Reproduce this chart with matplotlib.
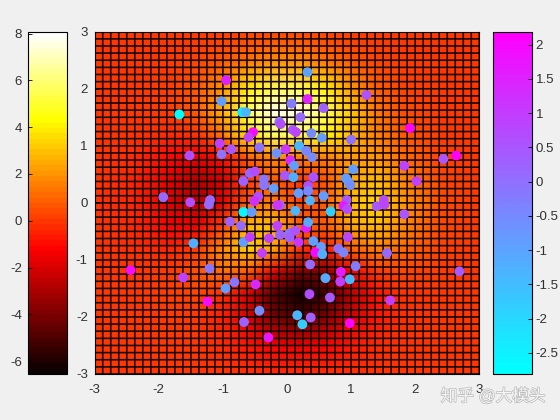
#
# pcolor surface with a scatter on top, one colorbar each side.
# Surface and point values are estimates.
#
import numpy as np
import matplotlib
matplotlib.use('Agg')
import matplotlib.pyplot as plt
import matplotlib.patheffects as pe
from matplotlib.colors import Normalize
from matplotlib.cm import ScalarMappable

plt.rcParams['font.family'] = ['Liberation Sans', 'Noto Sans CJK SC', 'DejaVu Sans']
plt.rcParams['axes.unicode_minus'] = False

x_grid = [-3, -2.4, -1.8, -1.4, -1, -0.6, -0.2, 0.2, 0.6, 1, 1.4, 1.8, 2.4, 3]
y_grid = [-3, -2.5, -2, -1.6, -1.2, -0.8, -0.4, 0, 0.4, 0.8, 1.2, 1.6, 2, 2.5, 3]

# one row per x_grid value, one column per y_grid value
z_m30 = [0, 0, 0, 0, 0, -0.01, -0.03, -0.04, -0.03, -0.02, -0.01, 0, 0, 0, 0]
z_m24 = [0, 0.01, 0.01, 0.01, -0.02, -0.15, -0.32, -0.43, -0.38, -0.24, -0.09, -0.01, 0.01, 0.01, 0]
z_m18 = [0.01, 0.02, 0.07, 0.15, 0.10, -0.41, -1.34, -1.98, -1.84, -1.12, -0.31, 0.14, 0.19, 0.07, 0.01]
z_m14 = [0, -0.02, 0, 0.27, 0.62, 0.12, -1.51, -2.86, -2.85, -1.64, -0.04, 0.86, 0.76, 0.26, 0.04]
z_m10 = [-0.03, -0.24, -0.59, -0.16, 1.30, 1.88, 0.26, -1.65, -2.14, -0.92, 1.43, 2.74, 2.10, 0.69, 0.11]
z_m06 = [-0.11, -0.75, -2.13, -2.00, 0.81, 3.44, 2.87, 1.02, 0, 0.91, 3.93, 5.59, 4.07, 1.31, 0.21]
z_m02 = [-0.21, -1.37, -4.10, -4.89, -1.64, 2.40, 2.93, 1.66, 0.78, 1.89, 5.73, 7.80, 5.63, 1.81, 0.29]
z_p02 = [-0.25, -1.62, -4.95, -6.53, -3.98, -0.09, 0.88, 0.29, 0.01, 1.53, 5.59, 7.77, 5.62, 1.81, 0.29]
z_p06 = [-0.20, -1.28, -3.95, -5.37, -3.64, -0.55, 0.72, 0.77, 0.66, 1.56, 4.27, 5.71, 4.10, 1.32, 0.21]
z_p10 = [-0.11, -0.69, -2.10, -2.76, -1.47, 0.91, 2.47, 2.94, 2.53, 2.19, 2.87, 3.21, 2.21, 0.70, 0.11]
z_p14 = [-0.04, -0.25, -0.74, -0.83, 0.06, 1.65, 2.99, 3.50, 2.98, 2.08, 1.65, 1.41, 0.89, 0.27, 0.04]
z_p18 = [-0.01, -0.06, -0.16, -0.10, 0.35, 1.13, 1.88, 2.17, 1.84, 1.20, 0.74, 0.48, 0.27, 0.08, 0.01]
z_p24 = [0, 0, 0, 0.02, 0.10, 0.23, 0.37, 0.43, 0.36, 0.23, 0.12, 0.06, 0.03, 0.01, 0]
z_p30 = [0, 0, 0, 0, 0.01, 0.02, 0.03, 0.03, 0.03, 0.02, 0.01, 0, 0, 0, 0]

z_vmin, z_vmax = -6.55, 8.08
c_vmin, c_vmax = -2.81, 2.19

pts_x = [-0.95, -1.02, -0.70, -0.64, -0.53, -0.60, -0.12, -0.10, -1.05, -0.87,
         -1.02, -0.43, -1.52, -0.16, -0.02, 0.07, 0.21, 0.09, 0.14, 0.38,
         0.54, 1.00, 1.24, 0.32, 0.32, 0.57, 1.92, 2.64, 2.44, 1.83,
         2.02, 0.19, 0.30, 0.39, 0.05, 0.11, -0.03, 0.10, 0.41, 1.03,
         0.92, 0.96, 0.99, 0.33, 0.33, 0.18, 0.57, 0.36, -0.11, -0.15,
         0.13, 0.68, 0.93, 0.88, 0.94, 1.51, 1.40, 1.52, 1.83, -0.68,
         -0.58, -0.50, -0.36, -0.36, -0.21, -1.20, -1.22, -1.51, -1.93, -0.45,
         -0.51, -0.68, -0.55, -0.89, -0.72, -0.15, -1.46, -0.68, -0.58, -0.28,
         -0.11, 0.04, 0.04, 0.13, 0.18, 0.30, 0.33, 0.41, 0.53, 0.44,
         0.55, 0.80, 0.88, 0.95, -0.39, -1.21, -2.44, -1.62, -0.82, -0.96,
         -0.49, -1.24, -0.43, -0.67, -0.29, 0.36, 1.07, 0.84, 0.83, 0.98,
         0.60, 0.35, 0.67, 0.16, 0.37, 0.24, 0.98, 1.56, 2.69, 1.61, -1.68]
pts_y = [2.15, 1.78, 1.59, 1.59, 1.24, 1.15, 1.42, 1.38, 1.04, 0.94,
         0.85, 0.97, 0.83, 0.87, 0.94, 1.74, 1.50, 1.28, 1.24, 1.22,
         1.14, 1.11, 1.89, 2.29, 1.82, 1.66, 1.31, 0.83, 0.77, 0.65,
         0.38, 1.00, 0.91, 0.80, 0.75, 0.65, 0.48, 0.45, 0.45, 0.59,
         0.43, 0.37, 0.31, 0.30, 0.21, 0.17, 0.12, 0.04, -0.04, -0.04,
         -0.14, -0.15, 0.05, -0.05, -0.11, 0.05, -0.06, -0.03, -0.20, 0.38,
         0.52, 0.55, 0.41, 0.31, 0.25, 0.05, -0.03, 0.01, 0.10, 0.11,
         0.03, -0.16, -0.16, -0.33, -0.40, -0.40, -0.71, -0.69, -0.60, -0.62,
         -0.56, -0.53, -0.61, -0.49, -0.69, -0.44, -0.34, -0.67, -0.77, -0.87,
         -0.90, -0.80, -0.87, -0.60, -0.88, -1.15, -1.18, -1.31, -1.39, -1.50,
         -1.43, -1.73, -1.89, -2.09, -2.36, -1.08, -1.11, -1.21, -1.38, -1.34,
         -1.32, -1.60, -1.66, -1.97, -2.01, -2.13, -2.11, -0.88, -1.20, -1.71, 1.55]
pts_c = [1.5, -0.9, -2.3, -1.4, 1.9, 0.9, -0.1, 0.7, 1.0, 0.5,
         0.0, 0.0, 0.7, -0.7, 1.1, -0.3, 0.1, 0.5, 0.8, -0.5,
         -0.9, 0.0, 0.6, -1.0, 1.5, 0.3, 2.15, 2.15, 0.5, 0.9,
         0.9, -1.4, -0.4, -0.5, 1.4, -0.9, 0.5, -1.2, 0.6, -0.9,
         -0.8, -0.8, -0.6, 0.7, -0.4, -0.8, -0.8, -1.3, 0.3, 1.1,
         -1.4, -1.8, 0.4, 1.6, 0.7, 0.7, 0.4, 0.8, 0.5, 0.3,
         0.2, 0.7, -0.1, -0.1, -0.9, 0.1, 0.1, 0.7, 0.1, 0.7,
         1.2, -2.6, -0.8, 0.3, 0.1, 0.9, -1.2, -0.9, 1.0, 0.9,
         0.3, 0.0, 0.3, 0.6, 1.1, 1.6, -1.1, -0.9, -0.9, 2.0,
         -1.2, 0.0, -0.4, 0.8, 1.0, -0.1, 1.9, 0.9, -0.1, -0.9,
         1.4, 1.9, -0.6, 0.3, 1.7, 0.1, -0.3, 1.6, 1.0, -1.4,
         -1.1, 0.7, 0.4, -1.4, 0.3, -1.8, 2.1, 0.1, 0.4, 1.0, -2.8]

z_ticks = [-6, -4, -2, 0, 2, 4, 6, 8]
c_ticks = [-2.5, -2, -1.5, -1, -0.5, 0, 0.5, 1, 1.5, 2]
axis_ticks = [-3, -2, -1, 0, 1, 2, 3]
n_lines = 49

W, H = 560, 420
TICK = '#303030'
FS = 9.5


def px_axes(fig, left, top, right, bottom):
    return fig.add_axes([left / W, 1 - bottom / H, (right - left) / W, (bottom - top) / H])


def style_bar(cax, side, ticks, labels, pad):
    cax.yaxis.set_ticks_position(side)
    cax.set_yticks(ticks)
    cax.set_yticklabels(labels)
    cax.tick_params(axis='y', direction='in', length=3, width=0.6, pad=pad,
                    labelsize=FS, labelcolor=TICK, color='k')
    cax.minorticks_off()


fig = plt.figure(figsize=(W / 100, H / 100), dpi=100, facecolor='#f0f0f0')
ax = px_axes(fig, 94.7, 31.7, 479.3, 374)
left_cax = px_axes(fig, 27.5, 31.7, 66.5, 374)
right_cax = px_axes(fig, 492.5, 31.7, 531.5, 374)

z = np.array([z_m30, z_m24, z_m18, z_m14, z_m10, z_m06, z_m02,
              z_p02, z_p06, z_p10, z_p14, z_p18, z_p24, z_p30]).T

z_norm = Normalize(z_vmin, z_vmax)
c_norm = Normalize(c_vmin, c_vmax)
hot = plt.get_cmap('hot', 64)
cool = plt.get_cmap('cool', 64)

ax.pcolormesh(x_grid, y_grid, z, cmap='hot', norm=z_norm, shading='gouraud', zorder=1)
lines = np.linspace(-3, 3, n_lines)
ax.vlines(lines, -3, 3, color='#140000', linewidth=1.15, snap=False, zorder=2)
ax.hlines(lines, -3, 3, color='#140000', linewidth=1.15, snap=False, zorder=2)
ax.scatter(pts_x, pts_y, c=pts_c, cmap=cool, norm=c_norm, s=50, linewidths=0, zorder=3)

ax.set_xlim(-3, 3)
ax.set_ylim(-3, 3)
ax.set_xticks(axis_ticks)
ax.set_yticks(axis_ticks)
ax.tick_params(axis='x', direction='in', length=3, width=0.6, pad=7, labelsize=FS, labelcolor=TICK)
ax.tick_params(axis='y', direction='in', length=3, width=0.6, pad=5, labelsize=FS, labelcolor=TICK)

fig.colorbar(ScalarMappable(z_norm, hot), cax=left_cax)
fig.colorbar(ScalarMappable(c_norm, cool), cax=right_cax)
style_bar(left_cax, 'left', z_ticks, [str(t) for t in z_ticks], 4)
style_bar(right_cax, 'right', c_ticks, ['%g' % t for t in c_ticks], 3)

fig.text(493 / W, 1 - 396 / H, '知乎 @大模头', color='#f7f7f7', fontsize=12,
         ha='center', va='center',
         path_effects=[pe.withStroke(linewidth=0.9, foreground='#b4b4b4')])

fig.savefig('out.png', dpi=100, facecolor=fig.get_facecolor())
